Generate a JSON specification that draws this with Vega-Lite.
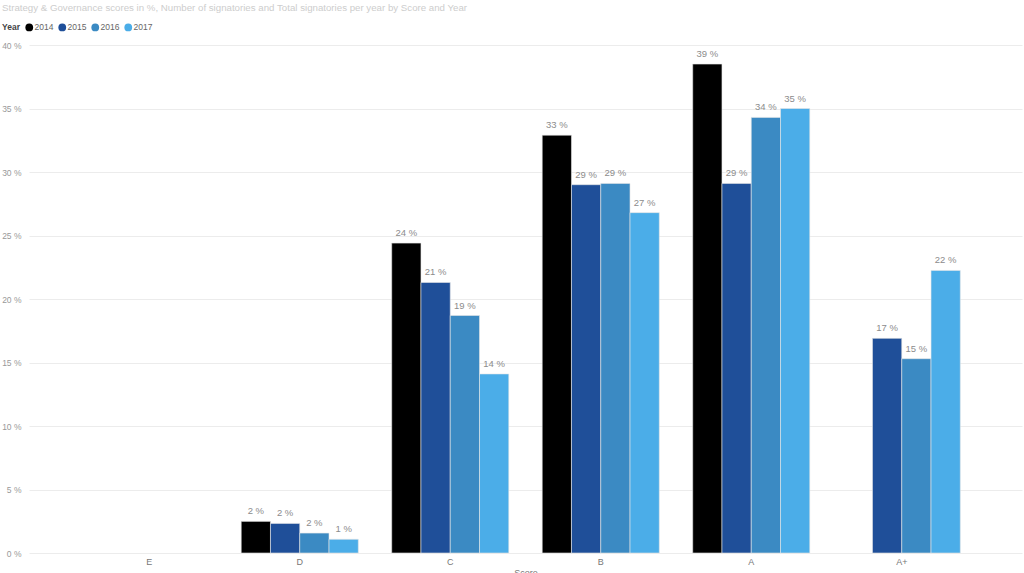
{
  "$schema": "https://vega.github.io/schema/vega-lite/v6.json",
  "autosize": "none",
  "width": 993,
  "height": 508,
  "padding": {"left": 29, "top": 45, "right": 2, "bottom": 20},
  "background": "white",
  "config": {
    "font": "Liberation Sans",
    "view": {"stroke": null}
  },
  "title": {
    "text": "Strategy & Governance scores in %, Number of signatories and Total signatories per year by Score and Year",
    "anchor": "start",
    "frame": "group",
    "dx": -27,
    "offset": 10,
    "fontSize": 9.7,
    "fontWeight": "normal",
    "color": "#cdcdcd"
  },
  "data": {
    "values": [
      {"Score": "D", "Year": "2014", "Pct": 2.49},
      {"Score": "D", "Year": "2015", "Pct": 2.33},
      {"Score": "D", "Year": "2016", "Pct": 1.57},
      {"Score": "D", "Year": "2017", "Pct": 1.08},
      {"Score": "C", "Year": "2014", "Pct": 24.4},
      {"Score": "C", "Year": "2015", "Pct": 21.3},
      {"Score": "C", "Year": "2016", "Pct": 18.7},
      {"Score": "C", "Year": "2017", "Pct": 14.1},
      {"Score": "B", "Year": "2014", "Pct": 32.9},
      {"Score": "B", "Year": "2015", "Pct": 29.0},
      {"Score": "B", "Year": "2016", "Pct": 29.1},
      {"Score": "B", "Year": "2017", "Pct": 26.8},
      {"Score": "A", "Year": "2014", "Pct": 38.5},
      {"Score": "A", "Year": "2015", "Pct": 29.1},
      {"Score": "A", "Year": "2016", "Pct": 34.3},
      {"Score": "A", "Year": "2017", "Pct": 35.0},
      {"Score": "A+", "Year": "2015", "Pct": 16.9},
      {"Score": "A+", "Year": "2016", "Pct": 15.3},
      {"Score": "A+", "Year": "2017", "Pct": 22.25}
    ]
  },
  "encoding": {
    "x": {
      "field": "Score",
      "type": "nominal",
      "sort": ["E", "D", "C", "B", "A", "A+"],
      "scale": {"domain": ["E", "D", "C", "B", "A", "A+"], "paddingInner": 0.222, "paddingOuter": 0.41},
      "axis": {
        "title": "Score",
        "titleFontSize": 9,
        "titleFontWeight": "normal",
        "titleColor": "#777",
        "titlePadding": 2,
        "labelAngle": 0,
        "labelFontSize": 9,
        "labelColor": "#777",
        "labelPadding": 4,
        "ticks": false,
        "domain": false
      }
    },
    "xOffset": {"field": "Year", "type": "nominal", "sort": ["2014", "2015", "2016", "2017"], "scale": {"domain": ["2014", "2015", "2016", "2017"]}},
    "y": {
      "field": "Pct",
      "type": "quantitative",
      "scale": {"domain": [0, 40], "nice": false},
      "axis": {
        "title": null,
        "values": [0, 5, 10, 15, 20, 25, 30, 35, 40],
        "labelExpr": "datum.value + ' %'",
        "labelFontSize": 8.5,
        "labelColor": "#999",
        "labelPadding": 8,
        "ticks": false,
        "domain": false,
        "gridColor": "#ececec",
        "gridWidth": 1
      }
    }
  },
  "layer": [
    {
      "mark": {"type": "bar", "stroke": "#e6e6e6", "strokeWidth": 0.6},
      "encoding": {
        "color": {
          "field": "Year",
          "type": "nominal",
          "scale": {"domain": ["2014", "2015", "2016", "2017"], "range": ["#000000", "#1F4F99", "#3B8AC3", "#4BADE8"]},
          "legend": {
            "orient": "none",
            "legendX": -27,
            "legendY": -22,
            "direction": "horizontal",
            "title": "Year",
            "titleOrient": "left",
            "titleFontSize": 8.5,
            "titleFontWeight": "bold",
            "titleColor": "#444",
            "titlePadding": 5,
            "labelFontSize": 8.5,
            "labelColor": "#666",
            "labelOffset": 1,
            "symbolType": "circle",
            "symbolSize": 60,
            "symbolStrokeWidth": 0,
            "columnPadding": 4
          }
        }
      }
    },
    {
      "transform": [{"calculate": "format(datum.Pct, '.0f') + ' %'", "as": "Label"}],
      "mark": {"type": "text", "baseline": "bottom", "dy": -5, "fontSize": 9.5, "color": "#8c8c8c"},
      "encoding": {
        "text": {"field": "Label", "type": "nominal"}
      }
    }
  ]
}
